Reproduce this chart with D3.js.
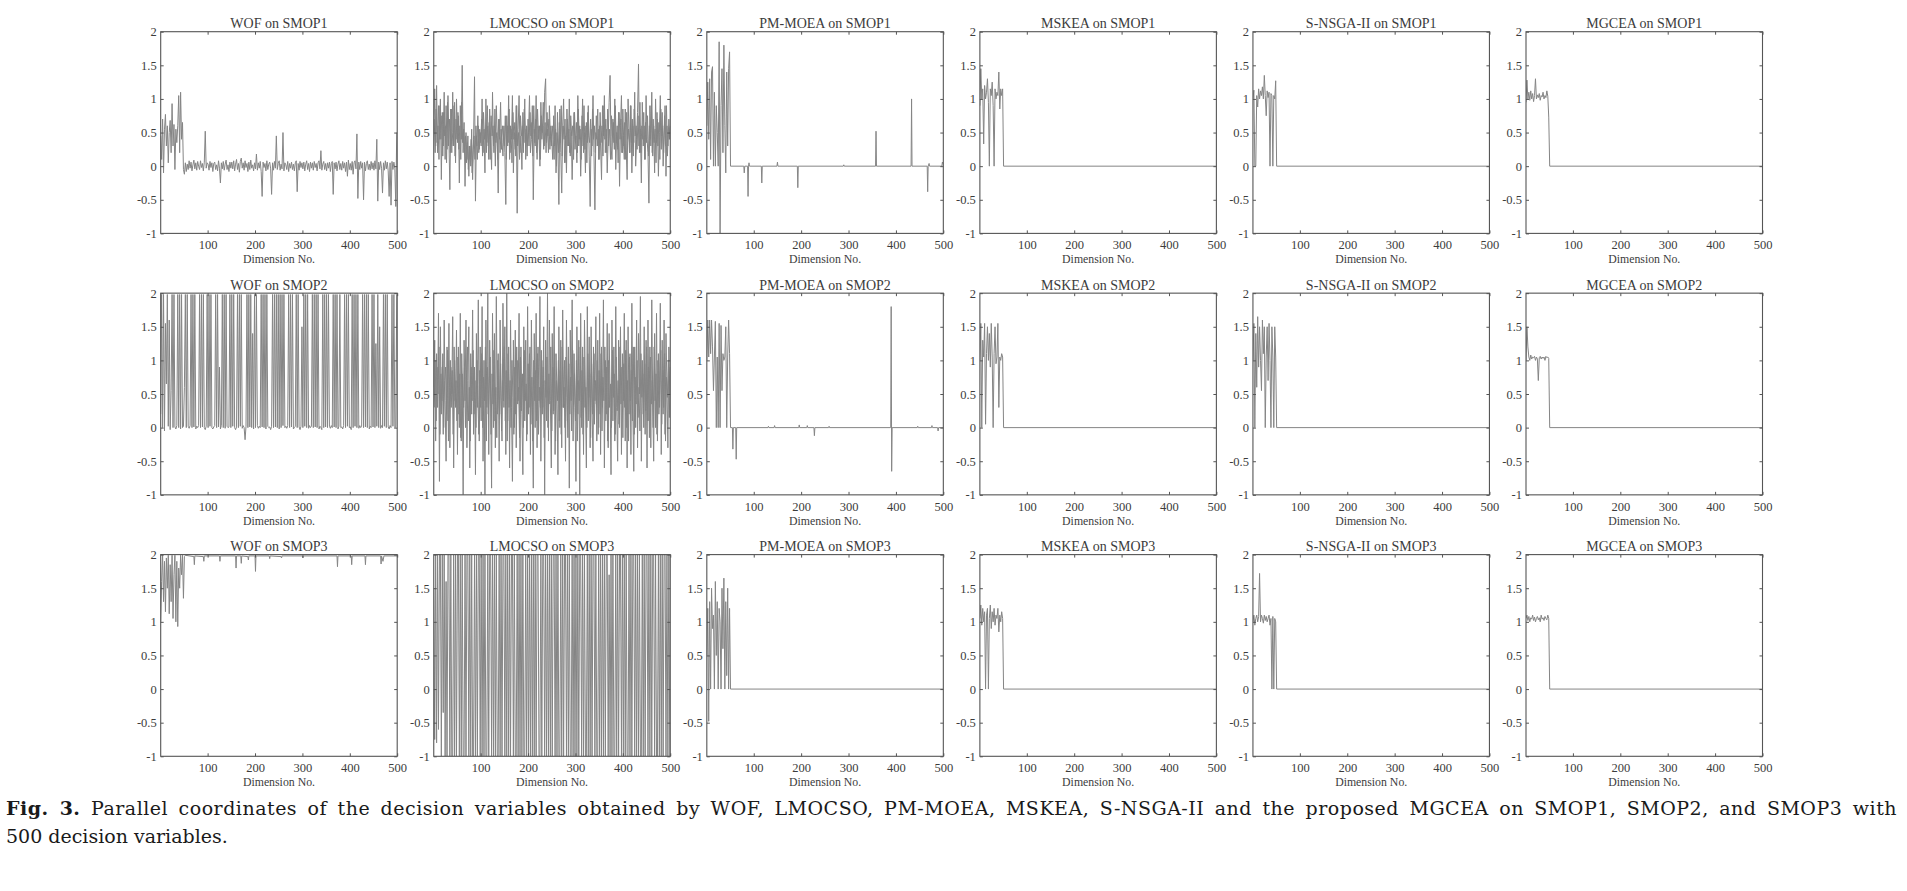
<!DOCTYPE html>
<html><head><meta charset="utf-8">
<script src="https://cdn.jsdelivr.net/npm/d3@7"></script>
<style>body{margin:0;background:#fff;overflow:hidden}</style>
</head><body>
<svg id="c" width="1907" height="891"></svg>
<script>
const algorithms = ["WOF", "LMOCSO", "PM-MOEA", "MSKEA", "S-NSGA-II", "MGCEA"];
const problems = ["SMOP1", "SMOP2", "SMOP3"];
const xTicks = [100, 200, 300, 400, 500];
const yTicks = [-1, -0.5, 0, 0.5, 1, 1.5, 2];
const dimStep = 2; // values listed every 2nd dimension

// ---- SMOP1 ----  (first solution: dims 1,3,5,...)
const WOF_SMOP1 = [
0.45,0.1,0.7,-0.1,0.55,0.77,0.3,0.6,0.05,0.5,0.68,0.2,0.93,0.3,0.62,-0.05,0.55,0.35,0.6,1.05,0.2,1.1,0.4,0.65,-0.05,
-0.12,0.05,-0.08,0.03,-0.05,0.08,-0.03,0.06,-0.07,0.02,0.09,-0.04,0.05,-0.06,0.07,0.0,-0.05,0.08,-0.02,0.04,-0.07,0.06,0.52,-0.03,0.05,
0.03,-0.06,0.07,-0.02,0.05,-0.08,0.04,0.06,-0.05,0.02,-0.07,0.08,-0.03,-0.25,0.05,-0.04,0.07,-0.06,0.03,0.09,-0.05,0.02,-0.08,0.06,-0.03,
0.06,-0.04,0.08,-0.07,0.03,0.1,-0.05,0.04,-0.09,0.07,0.12,-0.03,0.05,-0.06,0.08,-0.02,0.04,-0.08,0.06,-0.05,0.09,-0.03,0.02,-0.07,0.05,
-0.04,0.18,-0.06,0.05,-0.03,0.07,-0.08,-0.45,0.06,-0.02,0.04,-0.07,0.08,-0.05,0.03,0.06,-0.04,-0.42,0.05,-0.06,0.07,-0.03,0.45,-0.05,0.04,
0.08,-0.06,0.03,-0.04,0.5,-0.07,0.05,0.02,-0.05,0.07,-0.08,0.04,-0.03,0.06,-0.05,0.03,-0.07,0.05,0.08,-0.38,0.04,-0.06,0.07,-0.02,0.05,
-0.04,0.06,-0.07,0.03,0.08,-0.05,0.04,-0.08,0.06,-0.03,0.05,-0.06,0.07,-0.02,0.04,-0.07,0.05,0.08,-0.04,0.23,-0.06,0.03,0.07,-0.05,0.04,
-0.07,0.05,-0.03,0.06,-0.08,0.04,0.07,-0.42,0.05,-0.04,0.06,-0.07,0.03,0.08,-0.05,0.04,-0.06,0.07,-0.03,0.05,-0.08,0.06,-0.15,0.09,-0.05,
0.04,-0.06,0.07,-0.12,0.05,0.08,-0.04,0.48,-0.48,0.06,-0.05,0.07,-0.03,0.05,-0.5,0.06,-0.07,0.04,0.08,-0.05,0.03,-0.06,0.07,-0.04,0.05,
-0.06,0.08,-0.04,0.4,-0.52,0.06,-0.05,0.07,-0.03,-0.4,0.05,-0.06,0.08,-0.04,0.06,-0.07,-0.45,0.05,-0.58,0.07,-0.05,0.06,-0.03,-0.6,0.5];
const WOF_SMOP1_tail = [];

const LMOCSO_SMOP1 = [
0.5,1.15,0.3,1.2,0.2,0.9,0.4,1.0,-0.2,0.8,0.3,1.1,0.1,0.9,0.25,1.05,0.4,-0.35,0.85,0.2,1.1,0.3,0.95,0.05,1.0,
0.35,0.75,-0.25,0.9,0.4,1.5,0.2,0.65,-0.3,0.5,0.1,0.45,-0.15,0.3,0.0,0.55,-0.2,0.4,1.33,-0.52,0.45,0.1,0.6,0.25,0.5,
0.3,1.0,0.2,0.55,-0.1,1.0,0.35,0.6,0.1,0.85,0.4,-0.05,1.1,0.3,0.55,0.0,0.9,0.45,-0.4,0.7,0.2,0.55,0.35,0.15,0.6,
0.2,-0.57,0.75,0.3,1.05,0.1,0.6,0.4,1.05,-0.1,0.5,0.25,0.9,-0.7,0.55,1.05,0.2,0.45,-0.05,0.8,0.35,1.0,0.1,0.6,0.3,
0.5,1.05,0.2,0.4,0.9,-0.5,0.55,0.3,1.05,0.1,0.6,0.45,0.0,0.95,0.4,0.6,0.25,1.1,1.3,0.35,0.55,0.2,0.9,0.45,0.3,
0.6,0.4,0.1,0.9,-0.1,0.5,0.3,-0.57,0.85,0.2,-0.4,0.6,1.0,0.05,0.45,-0.1,0.7,0.3,1.0,0.15,0.5,-0.2,0.4,0.8,0.25,
0.45,0.05,1.05,0.3,0.6,-0.15,0.4,1.0,0.2,0.5,-0.1,0.65,0.35,0.9,0.15,-0.6,0.55,0.3,1.05,0.2,-0.65,0.5,0.4,0.85,0.1,
0.6,0.3,-0.2,0.9,0.45,1.05,0.2,0.55,-0.1,0.4,0.95,1.35,0.3,0.1,0.7,0.35,1.0,-0.05,0.5,0.25,0.8,-0.3,0.6,1.05,0.2,
0.45,0.1,0.85,0.3,-0.2,1.0,0.5,0.2,0.9,-0.1,0.6,0.35,1.1,0.0,0.4,0.8,1.52,0.2,0.55,-0.25,0.95,0.3,0.6,0.1,1.05,
0.4,0.2,-0.55,0.9,0.3,1.1,0.15,0.6,-0.1,1.0,0.35,0.7,-0.15,0.5,1.05,0.25,0.8,0.0,0.45,0.9,-0.15,0.6,0.3,0.7,0.4];
const LMOCSO_SMOP1_tail = [];
// second solution: dims 2,4,6,...
const LMOCSO_SMOP1_b = [
0.7,0.2,0.85,0.35,0.6,0.1,0.9,0.4,0.75,0.15,0.8,0.45,0.6,0.05,0.95,0.3,0.7,0.2,0.85,0.5,0.3,0.9,0.15,0.7,0.4,
0.8,0.25,0.6,0.1,0.95,0.35,0.55,0.2,0.45,0.05,0.35,-0.05,0.3,0.1,0.4,-0.1,0.25,0.45,0.1,0.6,0.3,0.75,0.2,0.55,0.35,
0.7,0.15,0.8,0.4,0.55,0.2,0.9,0.3,0.65,0.1,0.75,0.45,0.6,0.2,0.85,0.35,0.5,0.1,0.7,0.4,0.95,0.25,0.6,0.45,0.3,
0.75,0.1,0.6,0.35,0.85,0.2,0.55,0.05,0.8,0.4,0.65,0.15,0.9,0.3,0.5,0.1,0.75,0.45,0.6,0.2,0.85,0.35,0.55,0.15,0.7,
0.3,0.8,0.45,0.65,0.15,0.9,0.35,0.7,0.2,0.85,0.4,0.6,0.1,0.75,0.5,0.95,0.3,0.65,0.2,0.8,0.45,0.7,0.25,0.6,0.4,
0.1,0.75,0.3,0.55,0.0,0.8,0.2,0.65,0.35,0.9,0.15,0.6,0.4,0.7,0.05,0.85,0.3,0.55,0.2,0.75,0.45,0.6,0.1,0.8,0.35,
0.65,0.2,0.85,0.4,0.55,0.1,0.75,0.3,0.9,0.25,0.6,0.05,0.8,0.45,0.35,0.7,0.15,0.85,0.4,0.6,0.2,0.75,0.3,0.55,0.1,
0.8,0.35,0.6,0.15,0.9,0.4,0.7,0.2,0.85,0.3,0.55,0.1,0.75,0.45,0.65,0.25,0.9,0.35,0.6,0.05,0.8,0.4,0.7,0.2,0.85,
0.3,0.65,0.1,0.8,0.4,0.55,0.2,0.9,0.35,0.7,0.15,0.85,0.45,0.6,0.25,0.75,0.3,0.95,0.2,0.6,0.4,0.8,0.1,0.65,0.35,
0.75,0.15,0.6,0.4,0.9,0.2,0.7,0.35,0.55,0.05,0.8,0.3,0.65,0.1,0.85,0.45,0.6,0.2,0.75,0.3,0.9,0.15,0.55,0.4,0.6];

const PMMOEA_SMOP1 = [0.6,1.25,0.4,1.3,0.1,1.4,1.48,0.0,1.1,0.0,0.9,0.5,0.0,1.85,-1.0,0.9,1.45,0.2,1.8,0.6,-0.1,1.4,0.3,1.45,1.7];
const PMMOEA_SMOP1_tail = [[51,0],[79,0],[80,-0.1],[81,0],[87,0],[88,-0.45],[89,0],[90,0.05],[91,0],[116,0],[117,-0.25],[118,0],[149,0],[150,0.06],[151,0],[192,0],[193,-0.32],[194,0],[289,0],[290,0.02],[291,0],[357,0],[358,0.52],[359,0],[432,0],[433,1.0],[434,0],[466,0],[467,-0.38],[468,0],[470,0.04],[471,0],[497,0],[498,0.06],[500,0.03]];

const MSKEA_SMOP1 = [0.9,1.45,1.0,1.15,0.33,1.2,1.0,1.1,1.3,0.95,0.0,1.15,1.05,1.25,0.9,0.0,1.15,1.0,1.1,1.05,1.4,0.85,1.15,1.05,1.15];
const MSKEA_SMOP1_tail = [[51,0],[500,0]];

const SNSGAII_SMOP1 = [1.0,1.13,0.0,0.0,1.05,0.88,1.15,1.0,1.12,1.05,1.18,1.0,1.35,1.05,0.75,1.12,1.02,1.1,0.0,1.08,1.05,0.0,1.05,1.0,1.27];
const SNSGAII_SMOP1_tail = [[51,0],[500,0]];

const MGCEA_SMOP1 = [0.95,1.28,1.0,1.1,0.98,1.12,1.0,1.08,0.96,1.05,1.3,1.0,1.06,1.02,1.08,0.98,1.05,1.03,1.1,1.0,1.05,1.02,1.12,1.04,0.73];
const MGCEA_SMOP1_tail = [[51,0],[500,0]];

// ---- SMOP2 ----
const WOF_SMOP2 = [
0.2,1.98,0.0,1.98,-0.05,1.55,0.65,1.98,0.02,1.6,-0.03,0.55,1.98,0.0,1.98,0.01,-0.02,0.03,1.98,0.0,1.98,-0.02,1.98,0.0,0.02,
0.6,1.98,0.0,1.98,0.02,-0.01,0.03,1.98,0.0,1.98,0.01,1.98,-0.02,0.02,0.0,0.03,1.98,0.0,1.98,0.01,1.98,0.0,-0.03,0.02,1.98,
0.0,1.98,0.02,1.98,0.0,-0.02,0.01,0.03,1.98,0.0,1.98,0.01,0.9,-0.02,0.03,1.98,0.0,1.98,-0.01,1.98,0.02,0.0,0.01,1.98,0.0,
1.98,0.02,1.98,0.0,-0.03,0.01,1.98,0.0,1.98,0.02,1.98,-0.01,0.03,0.0,-0.18,0.02,1.98,0.0,1.98,0.01,1.98,0.0,1.4,-0.02,1.98,
0.0,1.98,0.03,-0.01,0.02,0.0,1.98,0.01,1.98,0.0,1.98,-0.02,1.98,0.02,0.0,0.01,-0.03,0.02,1.98,0.0,1.98,0.01,1.98,0.0,1.98,
-0.02,1.98,0.0,1.98,0.03,1.98,0.0,0.02,-0.01,0.03,1.98,0.0,1.98,0.01,1.98,-0.02,0.0,0.02,1.98,0.0,1.98,0.01,-0.03,0.02,1.5,
0.0,1.98,0.02,1.98,0.0,1.98,-0.01,0.03,0.0,0.02,1.98,0.0,1.98,0.01,1.98,0.0,1.98,-0.02,0.02,0.0,-0.03,1.98,0.0,1.98,0.01,
1.98,0.0,1.98,0.02,-0.01,0.03,0.0,1.98,0.01,1.98,0.0,1.98,-0.02,0.02,1.98,0.0,0.01,-0.02,0.03,1.98,0.0,1.98,0.02,1.98,0.0,
0.01,-0.03,1.98,0.0,1.98,0.02,1.98,0.0,1.98,-0.01,0.03,0.0,0.02,1.98,0.0,1.98,0.01,1.98,0.0,1.98,-0.02,0.02,0.0,1.98,0.01,
1.98,0.0,1.25,0.02,1.98,0.0,1.5,-0.01,0.03,0.0,1.98,0.02,1.98,0.0,1.98,0.01,-0.02,0.03,0.0,1.98,0.02,1.98,0.0,0.01,1.98];
const WOF_SMOP2_tail = [];

const LMOCSO_SMOP2 = [
0.6,1.3,-0.2,1.1,0.3,1.7,-0.8,1.5,0.2,0.9,-0.1,1.6,0.4,-0.5,1.2,0.1,1.55,-0.3,0.9,0.5,1.65,-0.6,1.0,0.3,1.45,
-0.4,1.2,0.0,1.7,-0.2,0.8,-1.0,1.3,0.4,1.6,-0.3,0.7,1.5,-0.6,1.1,0.2,1.75,-0.1,0.9,-0.7,1.4,0.3,1.9,-0.2,1.2,
0.1,1.8,-0.5,1.0,-1.0,1.6,0.3,2.0,-0.4,1.3,0.5,-0.9,1.7,0.0,1.4,-0.3,1.95,0.2,1.1,-0.5,1.6,0.4,-0.2,1.85,0.3,
1.5,-0.4,2.0,0.1,1.2,-0.6,1.6,0.3,-0.8,1.3,0.0,1.45,-0.3,1.0,0.4,1.7,-0.5,1.2,0.2,-0.7,1.5,0.1,1.3,-0.2,1.8,
0.2,1.1,-0.4,1.6,0.5,-0.9,1.4,0.0,1.7,-0.3,1.2,0.4,1.95,-0.5,1.0,0.3,1.5,-1.0,1.3,0.1,2.0,-0.2,1.6,0.4,-0.6,
1.4,0.2,1.8,-0.4,1.1,0.5,-0.7,1.5,0.0,1.3,-0.3,1.75,0.3,1.0,-0.5,1.6,0.1,1.2,-0.9,1.45,0.4,1.9,-0.2,1.1,0.3,
-0.8,1.5,0.2,1.3,-1.0,1.7,0.0,1.2,-0.4,1.6,0.5,-0.6,1.8,0.1,1.35,-0.3,1.5,0.3,-0.5,1.1,0.4,1.65,-0.2,1.3,0.0,
1.7,-0.4,1.2,0.3,1.9,-0.6,1.0,0.2,1.55,-0.3,1.4,0.5,-0.7,1.6,0.1,1.2,-0.2,1.8,0.3,-0.5,1.3,0.0,1.5,-0.4,1.1,
0.4,1.7,-0.2,1.3,-0.6,1.5,0.2,1.1,-0.4,1.85,0.3,-0.65,1.2,0.0,1.6,-0.3,1.4,0.5,1.95,-0.5,1.0,0.2,1.5,-0.1,1.3,
-0.6,1.6,0.1,1.2,-0.3,1.9,0.4,-0.5,1.4,0.0,1.7,-0.2,1.1,0.3,1.85,-0.4,1.3,0.2,1.6,-0.1,1.4,0.6,-0.3,1.2,0.5];
const LMOCSO_SMOP2_tail = [];
const LMOCSO_SMOP2_b = [
0.3,1.0,0.1,0.9,0.5,1.2,-0.1,0.8,0.4,1.1,0.0,0.7,0.9,0.2,1.15,-0.2,0.6,1.0,0.3,0.85,-0.1,1.2,0.4,0.7,0.1,
1.05,0.2,0.8,-0.15,1.1,0.5,0.3,0.95,0.0,0.75,1.2,0.1,0.6,-0.2,0.9,0.4,1.15,0.2,0.7,0.0,1.0,0.45,-0.1,0.85,0.3,
1.1,0.0,0.75,0.4,1.2,-0.2,0.9,0.2,0.65,1.05,-0.1,0.8,0.35,1.15,0.1,0.6,-0.15,1.0,0.5,0.2,0.95,-0.05,0.7,0.4,1.2,
0.1,0.85,-0.2,1.1,0.3,0.7,0.0,1.0,0.45,-0.1,0.9,0.2,1.2,0.35,0.6,-0.15,1.05,0.25,0.8,0.0,1.15,0.4,0.65,-0.1,0.95,
0.3,1.2,0.05,0.75,-0.2,1.0,0.4,0.85,0.1,1.1,-0.1,0.6,0.3,1.15,0.2,0.9,-0.15,0.7,0.45,1.05,0.0,0.8,0.35,1.2,-0.05,
0.9,0.25,1.1,-0.2,0.7,0.4,1.0,0.1,0.85,-0.1,1.2,0.3,0.6,0.0,1.05,0.45,-0.15,0.95,0.2,0.75,-0.05,1.15,0.35,0.8,0.1,
1.0,-0.2,0.7,0.4,1.2,0.15,0.85,-0.1,1.05,0.3,0.6,0.0,1.1,0.45,0.8,-0.15,0.95,0.2,1.2,0.05,0.7,0.35,1.0,-0.1,0.85,
0.2,1.1,-0.05,0.75,0.4,1.2,0.1,0.9,-0.2,1.0,0.3,0.65,0.0,1.15,0.45,0.8,-0.1,1.05,0.25,0.7,0.05,1.2,0.35,0.9,-0.15,
0.95,0.3,1.15,0.0,0.7,-0.2,1.05,0.4,0.85,0.1,1.2,-0.1,0.75,0.35,1.0,0.15,0.6,-0.05,1.1,0.45,0.8,0.0,0.95,0.25,1.2,
0.1,0.9,-0.15,1.05,0.35,0.7,0.0,1.2,0.4,0.8,-0.1,1.0,0.2,0.65,1.15,0.05,0.85,0.3,1.1,-0.2,0.75,0.45,1.0,0.15,0.9];

const PMMOEA_SMOP2 = [1.0,1.6,1.05,1.6,1.1,1.6,1.2,0.55,1.05,1.58,0.0,1.05,0.0,1.55,0.0,1.52,0.55,1.1,1.0,1.05,1.5,0.0,1.05,1.6,1.1];
const PMMOEA_SMOP2_tail = [[51,0],[55,0],[56,-0.32],[57,0],[62,0],[63,-0.47],[64,0],[130,0],[131,0.02],[132,0],[143,0],[144,0.03],[145,0],[195,0],[196,0.04],[197,0],[212,0],[213,0.03],[214,0],[227,0],[228,-0.12],[229,0],[258,0],[259,0.02],[260,0],[389,0],[390,1.8],[391,-0.65],[392,0],[445,0],[446,0.02],[447,0],[475,0],[476,0.03],[477,0],[488,0],[489,-0.05],[490,0],[500,0]];

const MSKEA_SMOP2 = [1.0,1.55,0.0,1.3,1.05,1.55,0.05,1.1,1.5,1.0,1.4,0.9,1.55,1.05,0.0,1.1,1.5,0.95,1.05,1.55,0.3,1.05,1.0,1.1,1.05];
const MSKEA_SMOP2_tail = [[51,0],[500,0]];

const SNSGAII_SMOP2 = [1.0,1.55,0.0,1.4,0.6,1.65,0.9,1.5,1.0,0.55,1.6,1.1,1.5,0.0,1.05,1.5,0.7,1.55,1.0,0.0,1.5,1.05,0.0,1.5,1.05];
const SNSGAII_SMOP2_tail = [[51,0],[500,0]];

const MGCEA_SMOP2 = [1.0,1.5,1.2,1.05,1.0,1.08,1.02,1.05,1.04,1.06,1.0,1.05,1.02,0.7,1.04,1.06,1.02,1.05,1.03,1.05,1.0,1.06,1.04,1.05,1.03];
const MGCEA_SMOP2_tail = [[51,0],[500,0]];

// ---- SMOP3 ----
const WOF_SMOP3 = [1.0,1.6,1.99,1.3,1.9,1.15,1.95,1.5,1.99,1.12,1.85,1.3,1.99,1.05,1.7,1.99,1.0,1.9,0.93,1.8,1.5,1.99,1.7,1.99,1.35];
const WOF_SMOP3_tail = [[51,1.97],[53,1.99],[71,1.97],[72,1.85],[73,1.98],[91,1.97],[92,1.9],[93,1.98],[125,1.98],[126,1.9],[127,1.98],[159,1.98],[160,1.8],[161,1.98],[170,1.98],[171,1.87],[172,1.98],[185,1.97],[186,1.92],[187,1.98],[200,1.98],[201,1.75],[202,1.98],[230,1.98],[231,1.94],[232,1.98],[255,1.97],[256,1.95],[257,1.98],[300,1.98],[301,1.95],[302,1.98],[373,1.98],[374,1.82],[375,1.98],[403,1.98],[404,1.85],[405,1.98],[432,1.98],[433,1.85],[434,1.98],[465,1.98],[466,1.86],[467,1.98],[470,1.9],[472,1.98],[500,1.98]];

const LMOCSO_SMOP3 = [
1.5,-0.75,2,-0.8,2,-0.6,2,2,-1,2,-0.35,2,-1,1.6,-1,2,2,-1,2,-1,-1,2,-1,2,-1,
2,2,-1,2,-1,2,-1,-1,2,-1,2,2,-1,2,-1,2,-1,-1,2,-1,2,-1,2,2,-1,
2,-1,2,-1,2,-1,-1,2,-1,2,2,-1,2,-1,2,-1,2,-1,-1,2,-1,2,-1,2,2,
-1,2,-1,2,-1,2,-1,2,2,-1,2,-1,-1,2,-1,2,-1,2,-1,2,-1,-1,2,-1,2,
-1,2,-1,2,-1,2,-1,2,-1,2,2,-1,-1,2,-1,2,2,-1,2,-1,2,-1,2,-1,2,
-1,2,2,-1,2,-1,2,-1,-1,2,-1,2,-1,2,2,-1,2,-1,2,-1,-1,2,-1,2,-1,
2,-1,2,-1,2,2,-1,2,-1,2,-1,-1,2,-1,2,-1,2,-1,2,2,-1,2,-1,-1,2,
-1,2,-1,2,-1,2,-1,2,2,-1,1.7,-1,2,-1,2,-1,-1,2,-1,2,-1,2,2,-1,2,
-1,2,-1,2,-1,-1,2,-1,2,-1,2,2,-1,2,-1,2,-1,2,-1,-1,2,-1,2,-1,2,
2,-1,2,-1,2,-1,2,2,-1,2,-1,-1,2,-1,2,-1,2,-1,2,2,-1,2,-1,2,-1];
const LMOCSO_SMOP3_tail = [];

const PMMOEA_SMOP3 = [0.5,1.2,-0.48,1.3,0.0,1.5,0.9,1.1,0.0,1.6,0.5,1.3,0.0,1.2,1.0,0.0,1.5,0.6,1.65,0.0,1.3,0.2,1.5,0.0,1.2];
const PMMOEA_SMOP3_tail = [[51,0],[500,0]];

const MSKEA_SMOP3 = [1.05,1.25,0.95,1.2,1.0,1.15,0.0,1.1,1.2,0.0,1.05,1.25,0.9,1.15,1.0,1.2,0.95,1.1,1.05,1.2,0.85,1.1,1.0,1.15,1.05];
const MSKEA_SMOP3_tail = [[51,0],[500,0]];

const SNSGAII_SMOP3 = [1.0,1.1,0.95,1.05,1.1,1.0,1.08,1.72,1.0,1.1,1.05,0.98,1.1,1.02,1.08,1.0,1.05,1.1,0.95,1.05,0.0,1.08,0.0,1.05,1.0];
const SNSGAII_SMOP3_tail = [[51,0],[500,0]];

const MGCEA_SMOP3 = [1.05,1.1,1.02,1.08,1.0,1.06,1.04,1.1,1.02,1.07,1.0,1.05,1.08,1.03,1.06,1.0,1.1,1.04,1.06,1.02,1.08,1.05,1.03,1.1,1.05];
const MGCEA_SMOP3_tail = [[51,0],[500,0]];

const captionBold = "Fig. 3.";
const captionLine1 = "Parallel coordinates of the decision variables obtained by WOF, LMOCSO, PM-MOEA, MSKEA, S-NSGA-II and the proposed MGCEA on SMOP1, SMOP2, and SMOP3 with";
const captionLine2 = "500 decision variables.";

// tables built from the arrays above
const heads = [
  [WOF_SMOP1, LMOCSO_SMOP1, PMMOEA_SMOP1, MSKEA_SMOP1, SNSGAII_SMOP1, MGCEA_SMOP1],
  [WOF_SMOP2, LMOCSO_SMOP2, PMMOEA_SMOP2, MSKEA_SMOP2, SNSGAII_SMOP2, MGCEA_SMOP2],
  [WOF_SMOP3, LMOCSO_SMOP3, PMMOEA_SMOP3, MSKEA_SMOP3, SNSGAII_SMOP3, MGCEA_SMOP3]];
const tails = [
  [WOF_SMOP1_tail, LMOCSO_SMOP1_tail, PMMOEA_SMOP1_tail, MSKEA_SMOP1_tail, SNSGAII_SMOP1_tail, MGCEA_SMOP1_tail],
  [WOF_SMOP2_tail, LMOCSO_SMOP2_tail, PMMOEA_SMOP2_tail, MSKEA_SMOP2_tail, SNSGAII_SMOP2_tail, MGCEA_SMOP2_tail],
  [WOF_SMOP3_tail, LMOCSO_SMOP3_tail, PMMOEA_SMOP3_tail, MSKEA_SMOP3_tail, SNSGAII_SMOP3_tail, MGCEA_SMOP3_tail]];
const seconds = [
  [null, LMOCSO_SMOP1_b, null, null, null, null],
  [null, LMOCSO_SMOP2_b, null, null, null, null],
  [null, null, null, null, null, null]];

// ---- layout ----
const L0 = 160.7, DX = 273.06, T0 = 31.7, DY = 261.45, W = 236.5, H = 201.7;
const serif = "'Liberation Serif', 'Times New Roman', serif";
const textCol = "#3c3c3c", axisCol = "#555", lineCol = "#858585";

const svg = d3.select("#c");
const x = d3.scaleLinear().domain([1, 500]).range([0, W]);
const y = d3.scaleLinear().domain([-1, 2]).range([H, 0]);
const line = d3.line().x(d => x(d[0])).y(d => y(d[1]));

problems.forEach((prob, r) => {
  algorithms.forEach((alg, c) => {
    const g = svg.append("g").attr("transform", `translate(${L0 + c * DX},${T0 + r * DY})`);
    const cid = `clip-${r}-${c}`;
    g.append("clipPath").attr("id", cid).append("rect").attr("width", W).attr("height", H);

    const lines = [heads[r][c].map((v, i) => [1 + i * dimStep, v]).concat(tails[r][c])];
    if (seconds[r][c]) lines.push(seconds[r][c].map((v, i) => [2 + i * dimStep, v]));
    g.selectAll("path.sol").data(lines).join("path").attr("class", "sol").attr("d", line)
      .attr("fill", "none").attr("stroke", lineCol).attr("stroke-width", 1)
      .attr("stroke-linejoin", "round").attr("clip-path", `url(#${cid})`);

    const ax = (gen, tr) => {
      const a = g.append("g").attr("transform", tr).call(gen);
      a.select(".domain").remove();
      a.selectAll("line").attr("stroke", axisCol);
      a.selectAll("text").attr("font-family", serif).attr("font-size", 12.5).attr("fill", textCol);
      return a;
    };
    ax(d3.axisBottom(x).tickValues(xTicks).tickSize(-3).tickPadding(7).tickFormat(d3.format("d")), `translate(0,${H})`);
    ax(d3.axisTop(x).tickValues(xTicks).tickSize(-3).tickFormat(""), "translate(0,0)");
    ax(d3.axisLeft(y).tickValues(yTicks).tickSize(-3).tickPadding(4).tickFormat(d => String(d)), "translate(0,0)");
    ax(d3.axisRight(y).tickValues(yTicks).tickSize(-3).tickFormat(""), `translate(${W},0)`);

    g.append("rect").attr("width", W).attr("height", H)
      .attr("fill", "none").attr("stroke", axisCol).attr("stroke-width", 1.1);

    g.append("text").attr("x", W / 2).attr("y", -3.5).attr("text-anchor", "middle")
      .attr("font-family", serif).attr("font-size", 14).attr("fill", textCol)
      .text(`${alg} on ${prob}`);
    g.append("text").attr("x", W / 2).attr("y", H + 30).attr("text-anchor", "middle")
      .attr("font-family", serif).attr("font-size", 11.8).attr("fill", textCol)
      .text("Dimension No.");
  });
});

// caption
const capFont = "'DejaVu Serif', serif";
const t1 = svg.append("text").attr("x", 6).attr("y", 815)
  .attr("font-family", capFont).attr("font-size", 19).attr("fill", "#1a1a1a")
  .attr("letter-spacing", 0.5);
t1.append("tspan").attr("font-weight", "bold").text(captionBold);
t1.append("tspan").text(" " + captionLine1);
const natural = t1.node().getComputedTextLength();
const spaces = (captionBold + " " + captionLine1).split(" ").length - 1;
t1.attr("word-spacing", Math.max(0, (1897 - 6 - natural) / spaces));
svg.append("text").attr("x", 6).attr("y", 843)
  .attr("font-family", capFont).attr("font-size", 19).attr("fill", "#1a1a1a")
  .text(captionLine2);
</script>
</body></html>
